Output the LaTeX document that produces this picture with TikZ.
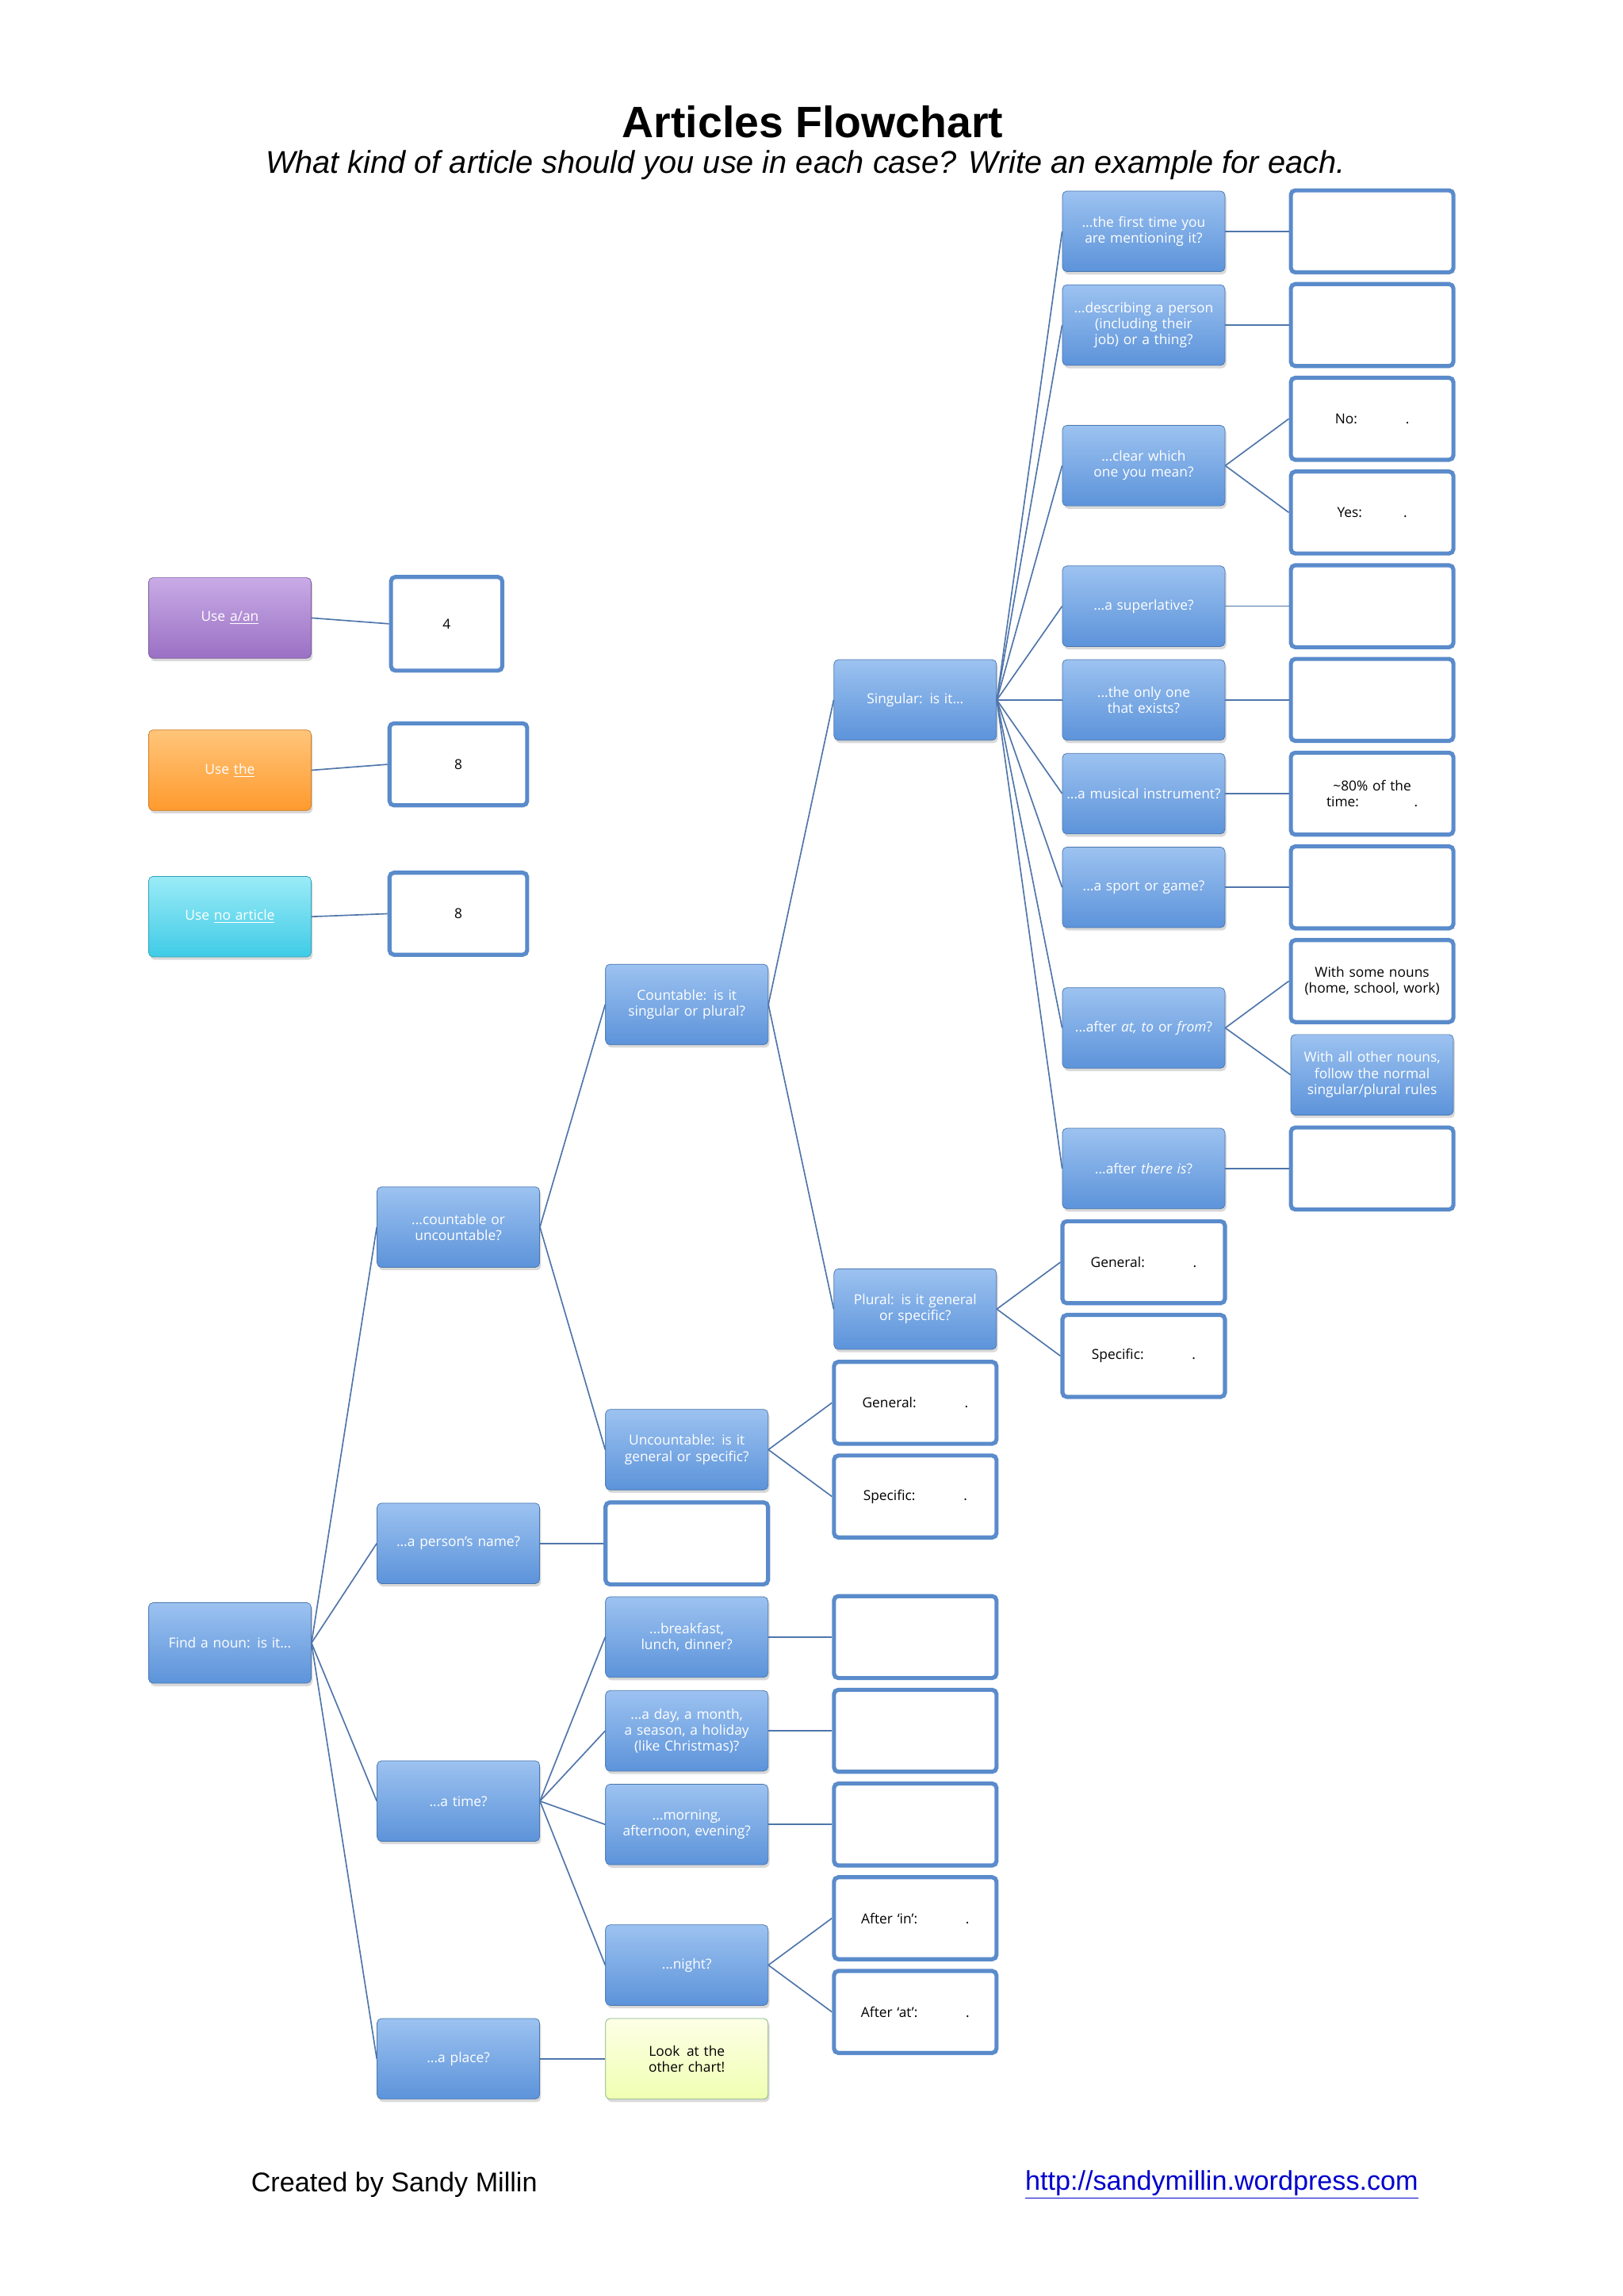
\documentclass[tikz,border=0pt]{standalone}
\usepackage{fontspec}
\usepackage[none]{hyphenat}
\setmainfont{Open Sans}
\newfontfamily\hel{Liberation Sans}
\usetikzlibrary{shadows}
\definecolor{qtop}{HTML}{9CC2F0}
\definecolor{qbot}{HTML}{5C93DA}
\definecolor{bord}{HTML}{5A8BCB}
\definecolor{ln}{HTML}{4F75AA}
\definecolor{pur}{HTML}{9A70C4}
\definecolor{purt}{HTML}{C9ABE6}
\definecolor{ora}{HTML}{FF9A2E}
\definecolor{orat}{HTML}{FFC57A}
\definecolor{cya}{HTML}{3FCBE6}
\definecolor{cyat}{HTML}{9BEBF7}
\tikzset{
 q/.style={rounded corners=3pt,minimum width=111pt,minimum height=55pt,text width=111pt,align=center,inner xsep=0pt,
   top color=qtop,bottom color=qbot,draw=qbot!80!black,line width=0.4pt,text=white,font=\fontsize{9.4}{11}\selectfont,
   drop shadow={opacity=0.3,shadow xshift=1pt,shadow yshift=-2pt}},
 ans/.style={rounded corners=3pt,minimum width=111pt,minimum height=56pt,text width=100pt,align=center,
   draw=bord,line width=2.8pt,fill=white,font=\fontsize{9.4}{11}\selectfont},
 leg/.style={q,top color=#1t,bottom color=#1,draw=#1!80!black},
 e/.style={draw=ln,line width=0.9pt}
}
\begin{document}
\begin{tikzpicture}[x=1pt,y=-1pt]
\useasboundingbox (0,0) rectangle (1108,1568);
\node[font=\hel\bfseries\fontsize{30}{34}\selectfont] at (555,83) {Articles Flowchart};
\node[font=\hel\itshape\fontsize{21.5}{24}\selectfont] at (550,113) {What kind of article should you use in each case? Write an example for each.};
\node[font=\hel\fontsize{18.5}{20}\selectfont,anchor=west] at (168,1492) {Created by Sandy Millin};
\node[font=\hel\fontsize{18.5}{20}\selectfont,text=blue!80!black,anchor=east] at (972,1492) {\underline{http://sandymillin.wordpress.com}};
% legend
\node[leg=pur] (la) at (157,422) {Use \underline{a/an}};
\node[ans,minimum width=76pt,text width=60pt,minimum height=64pt] (ba) at (305,426) {4};
\node[leg=ora] (lt) at (157,526) {Use \underline{the}};
\node[ans,minimum width=94pt,text width=80pt] (bt) at (313,522) {8};
\node[leg=cya] (ln) at (157,626) {Use \underline{no article}};
\node[ans,minimum width=94pt,text width=80pt] (bn) at (313,624) {8};
\draw[e] (la.east)--(ba.west); \draw[e] (lt.east)--(bt.west); \draw[e] (ln.east)--(bn.west);
% right column
\node[q] (r1) at (781,158) {...the first time you are mentioning it?};
\node[q] (r2) at (781,222) {...describing a person (including their job) or a thing?};
\node[q] (r3) at (781,318) {...clear which one you mean?};
\node[q] (r4) at (781,414) {...a superlative?};
\node[q] (r5) at (781,478) {...the only one that exists?};
\node[q] (r6) at (781,542) {...a musical instrument?};
\node[q] (r7) at (781,606) {...a sport or game?};
\node[q] (r8) at (781,702) {...after \textit{at, to} or \textit{from}?};
\node[q] (r9) at (781,798) {...after \textit{there is}?};
\node[ans] (a1) at (937,158) {};
\node[ans] (a2) at (937,222) {};
\node[ans] (a3) at (937,286) {No:\hspace{3.5em}.};
\node[ans] (a4) at (937,350) {Yes:\hspace{3em}.};
\node[ans] (a5) at (937,414) {};
\node[ans] (a6) at (937,478) {};
\node[ans] (a7) at (937,542) {\textasciitilde80\% of the\\time:\hspace{4em}.};
\node[ans] (a8) at (937,606) {};
\node[ans] (a9) at (937,670) {With some nouns (home, school, work)};
\node[q] (a10) at (937,734) {With all other nouns, follow the normal singular/plural rules};
\node[ans] (a11) at (937,798) {};
\foreach \r/\a in {r1/a1,r2/a2,r3/a3,r3/a4,r4/a5,r5/a6,r6/a7,r7/a8,r8/a9,r8/a10,r9/a11} \draw[e] (\r.east)--(\a.west);
\node[q] (sg) at (625,478) {Singular: is it...};
\foreach \r in {r1,r2,r3,r4,r5,r6,r7,r8,r9} \draw[e] (sg.east)--(\r.west);
\node[q] (pl) at (625,894) {Plural: is it general or specific?};
\node[ans] (pg) at (781,862) {General:\hspace{3.5em}.};
\node[ans] (ps) at (781,926) {Specific:\hspace{3.5em}.};
\draw[e] (pl.east)--(pg.west); \draw[e] (pl.east)--(ps.west);
\node[q] (ct) at (469,686) {Countable: is it singular or plural?};
\draw[e] (ct.east)--(sg.west); \draw[e] (ct.east)--(pl.west);
\node[q] (uc) at (469,990) {Uncountable: is it general or specific?};
\node[ans] (ug) at (625,958) {General:\hspace{3.5em}.};
\node[ans] (us) at (625,1022) {Specific:\hspace{3.5em}.};
\draw[e] (uc.east)--(ug.west); \draw[e] (uc.east)--(us.west);
\node[q] (cu) at (313,838) {...countable or uncountable?};
\draw[e] (cu.east)--(ct.west); \draw[e] (cu.east)--(uc.west);
\node[q] (pn) at (313,1054) {...a person's name?};
\node[ans] (pnb) at (469,1054) {};
\draw[e] (pn.east)--(pnb.west);
\node[q] (tm) at (313,1230) {...a time?};
\node[q] (t1) at (469,1118) {...breakfast, lunch, dinner?};
\node[q] (t2) at (469,1182) {...a day, a month, a season, a holiday (like Christmas)?};
\node[q] (t3) at (469,1246) {...morning, afternoon, evening?};
\node[q] (t4) at (469,1342) {...night?};
\node[ans] (b1) at (625,1118) {};
\node[ans] (b2) at (625,1182) {};
\node[ans] (b3) at (625,1246) {};
\node[ans] (b4) at (625,1310) {After `in':\hspace{3.5em}.};
\node[ans] (b5) at (625,1374) {After `at':\hspace{3.5em}.};
\foreach \t in {t1,t2,t3,t4} \draw[e] (tm.east)--(\t.west);
\foreach \t/\b in {t1/b1,t2/b2,t3/b3,t4/b4,t4/b5} \draw[e] (\t.east)--(\b.west);
\node[q] (pc) at (313,1406) {...a place?};
\node[q,top color=green!8!yellow!10,bottom color=green!20!yellow!30,draw=green!40!black!50,text=black,text width=90pt] (lk) at (469,1406) {Look\, at the other chart!};
\draw[e] (pc.east)--(lk.west);
\node[q] (fn) at (157,1122) {Find a noun: is it...};
\foreach \n in {cu,pn,tm,pc} \draw[e] (fn.east)--(\n.west);
\end{tikzpicture}
\end{document}
